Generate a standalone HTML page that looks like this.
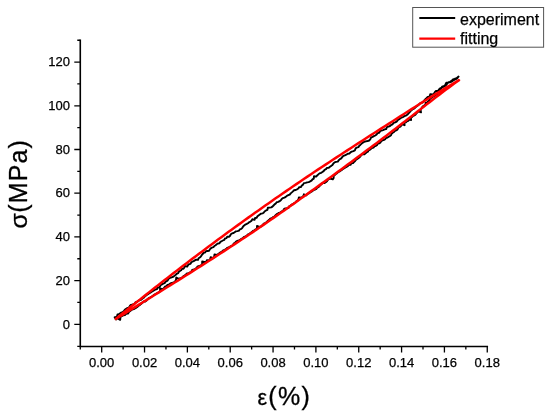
<!DOCTYPE html><html><head><meta charset="utf-8"><style>html,body{margin:0;padding:0;background:#fff;}svg{display:block;}text{font-family:"Liberation Sans",Arial,sans-serif;fill:#000;}</style></head><body>
<svg width="550" height="416" viewBox="0 0 550 416">
<rect width="550" height="416" fill="#fff"/>
<path d="M80.28 40.25V346.45H487.26" fill="none" stroke="#000" stroke-width="1.6" stroke-linecap="square"/>
<path d="M80.28 346.45h-3M80.28 324.30h-6M80.28 302.45h-3M80.28 280.60h-6M80.28 258.75h-3M80.28 236.90h-6M80.28 215.05h-3M80.28 193.20h-6M80.28 171.35h-3M80.28 149.50h-6M80.28 127.65h-3M80.28 105.80h-6M80.28 83.95h-3M80.28 62.10h-6M80.28 40.25h-3M80.28 346.45v3M101.70 346.45v6M123.12 346.45v3M144.54 346.45v6M165.96 346.45v3M187.38 346.45v6M208.80 346.45v3M230.22 346.45v6M251.64 346.45v3M273.06 346.45v6M294.48 346.45v3M315.90 346.45v6M337.32 346.45v3M358.74 346.45v6M380.16 346.45v3M401.58 346.45v6M423.00 346.45v3M444.42 346.45v6M465.84 346.45v3M487.26 346.45v6" fill="none" stroke="#000" stroke-width="1.3"/>
<text x="70" y="328.50" font-size="13" stroke="#000" stroke-width="0.25" text-anchor="end">0</text>
<text x="70" y="284.80" font-size="13" stroke="#000" stroke-width="0.25" text-anchor="end">20</text>
<text x="70" y="241.10" font-size="13" stroke="#000" stroke-width="0.25" text-anchor="end">40</text>
<text x="70" y="197.40" font-size="13" stroke="#000" stroke-width="0.25" text-anchor="end">60</text>
<text x="70" y="153.70" font-size="13" stroke="#000" stroke-width="0.25" text-anchor="end">80</text>
<text x="70" y="110.00" font-size="13" stroke="#000" stroke-width="0.25" text-anchor="end">100</text>
<text x="70" y="66.30" font-size="13" stroke="#000" stroke-width="0.25" text-anchor="end">120</text>
<text x="101.70" y="367.3" font-size="13" stroke="#000" stroke-width="0.25" text-anchor="middle">0.00</text>
<text x="144.54" y="367.3" font-size="13" stroke="#000" stroke-width="0.25" text-anchor="middle">0.02</text>
<text x="187.38" y="367.3" font-size="13" stroke="#000" stroke-width="0.25" text-anchor="middle">0.04</text>
<text x="230.22" y="367.3" font-size="13" stroke="#000" stroke-width="0.25" text-anchor="middle">0.06</text>
<text x="273.06" y="367.3" font-size="13" stroke="#000" stroke-width="0.25" text-anchor="middle">0.08</text>
<text x="315.90" y="367.3" font-size="13" stroke="#000" stroke-width="0.25" text-anchor="middle">0.10</text>
<text x="358.74" y="367.3" font-size="13" stroke="#000" stroke-width="0.25" text-anchor="middle">0.12</text>
<text x="401.58" y="367.3" font-size="13" stroke="#000" stroke-width="0.25" text-anchor="middle">0.14</text>
<text x="444.42" y="367.3" font-size="13" stroke="#000" stroke-width="0.25" text-anchor="middle">0.16</text>
<text x="487.26" y="367.3" font-size="13" stroke="#000" stroke-width="0.25" text-anchor="middle">0.18</text>
<text transform="translate(27,212.7) rotate(-90)" font-size="25" letter-spacing="1.1" stroke="#000" stroke-width="0.3">(MPa)</text>
<text transform="translate(27.2,228.6) rotate(-90) scale(1.08,1)" font-size="23" stroke="#000" stroke-width="0.3">σ</text>
<text x="284.3" y="404.5" font-size="25" letter-spacing="1.3" stroke="#000" stroke-width="0.3" text-anchor="middle"><tspan font-size="21.5">ε</tspan>(%)</text>
<path d="M114.30 316.60L116.11 319.40L117.27 318.17L120.19 319.81L120.44 317.10L121.78 316.14L123.21 315.36L124.89 314.98L126.05 313.74L127.89 313.62L128.88 312.11L130.18 311.11L131.39 309.96L132.91 309.32L134.52 308.82L135.90 307.95L137.27 307.06L138.45 305.86L139.86 305.03L141.08 303.91L142.34 302.85L143.46 301.56L145.31 301.45L146.60 300.45L147.71 299.14L148.92 298.00L150.44 297.35L151.82 296.50L153.15 295.56L154.46 294.57L155.91 293.83L157.32 293.03L158.79 292.31L160.06 291.28L160.15 288.35L162.64 289.29L163.80 288.07L164.88 286.75L166.44 286.18L167.50 284.83L169.19 284.47L170.38 283.33L171.98 282.84L173.69 282.52L174.94 281.48L175.96 280.07L176.27 277.51L178.94 278.74L180.55 278.28L182.02 277.60L183.19 276.43L184.58 275.62L185.81 274.56L186.98 273.40L188.70 273.12L190.15 272.41L191.42 271.42L192.30 269.82L193.92 269.38L195.43 268.78L196.69 267.78L197.68 266.36L199.35 266.02L200.81 265.34L202.14 264.47L202.17 261.55L204.35 262.02L206.17 261.91L206.90 260.11L208.98 260.41L210.15 259.30L210.64 257.14L213.17 258.15L214.16 256.77L214.48 254.35L216.79 255.02L218.11 254.16L219.33 253.16L220.65 252.29L222.00 251.49L223.14 250.37L224.72 249.91L226.03 249.06L227.15 247.91L228.68 247.40L230.06 246.66L231.48 245.97L232.87 245.26L233.65 243.60L234.98 242.80L236.02 241.57L237.41 240.85L238.88 240.26L240.32 239.64L241.58 238.74L242.91 237.96L244.03 236.86L245.58 236.40L246.79 235.44L247.97 234.45L249.34 233.72L250.65 232.94L251.79 231.89L252.99 230.93L254.35 230.22L255.64 229.41L257.03 228.73L257.00 225.99L259.44 226.87L261.00 226.48L262.16 225.49L263.18 224.30L264.38 223.37L265.83 222.82L266.86 221.65L268.01 220.68L269.21 219.76L270.24 218.61L271.75 218.15L272.93 217.22L274.30 216.57L275.35 215.47L276.46 214.44L277.76 213.69L278.97 212.81L280.49 212.39L281.58 211.34L283.09 210.91L283.78 209.31L284.94 208.38L286.68 208.27L288.38 208.11L289.05 206.48L290.42 205.87L291.44 204.74L292.92 204.28L294.00 203.24L295.29 202.50L296.28 201.36L297.58 200.64L298.46 199.33L298.87 197.38L300.90 197.69L302.23 197.03L303.39 196.12L303.92 194.33L306.45 195.35L307.24 193.93L308.72 193.48L309.90 192.61L311.10 191.77L312.44 191.13L313.50 190.10L314.98 189.65L316.30 188.97L317.14 187.64L318.53 187.07L319.52 185.95L320.63 184.99L321.60 183.83L322.89 183.13L324.60 183.01L325.80 182.18L326.95 181.28L327.78 179.95L328.96 179.10L330.32 178.49L332.76 179.37L333.62 178.09L333.74 175.79L334.93 174.96L335.92 173.86L337.17 173.10L338.24 172.11L339.57 171.48L340.67 170.53L341.99 169.88L343.07 168.91L344.29 168.12L345.55 167.40L346.83 166.70L348.02 165.89L349.05 164.85L350.72 164.69L351.40 163.19L353.08 163.03L354.04 161.91L355.14 160.97L356.04 159.78L357.18 158.90L358.39 158.12L359.54 157.27L360.52 156.18L361.30 154.82L362.67 154.27L364.45 154.25L365.57 153.36L366.53 152.26L367.87 151.66L368.64 150.31L369.97 149.70L371.01 148.72L372.17 147.88L373.66 147.51L374.51 146.27L375.99 145.86L377.08 144.95L377.87 143.63L379.40 143.30L380.53 142.44L381.24 141.03L382.58 140.45L383.99 139.96L385.16 139.17L386.02 137.96L387.53 137.61L388.66 136.76L389.92 136.08L391.03 135.22L391.61 133.66L392.74 132.81L393.93 132.04L394.88 130.97L396.14 130.31L397.41 129.67L398.09 128.25L399.03 127.16L400.41 126.66L401.30 125.53L402.13 124.31L404.61 125.22L404.40 122.68L405.87 122.29L406.90 121.35L408.33 120.91L408.94 119.43L411.12 119.96L410.83 117.34L412.21 116.84L413.08 115.70L414.58 115.36L415.61 114.43L416.46 113.26L417.46 112.28L418.58 111.47L421.01 112.32L420.55 109.48L421.44 108.36L422.27 107.16L423.17 106.06L424.43 105.42L425.39 104.38L425.87 102.72L427.32 102.32L428.25 101.24L429.40 100.44L429.96 98.86L431.05 97.99L432.34 97.36L433.37 96.39L434.54 95.60L435.80 94.92L437.04 94.21L437.77 92.83L438.75 91.77L439.49 90.39L440.59 89.48L441.45 88.24L442.08 86.69L443.56 86.26L444.84 85.57L445.58 84.13L446.33 82.71L448.00 82.52L449.62 82.26L450.76 81.34L451.97 80.52L452.97 79.39L454.49 78.97L455.90 78.40L457.34 77.87L458.60 76.60L456.00 78.80L457.66 77.87L456.32 79.00L454.74 79.70L453.20 80.47L451.88 81.59L450.26 82.19L448.36 82.30L447.22 83.70L446.09 85.11L444.78 86.18L443.28 86.94L441.72 87.57L440.22 88.32L438.95 89.43L437.97 91.00L435.99 90.91L434.82 92.16L433.90 93.80L432.44 94.55L430.24 94.09L429.73 96.38L428.08 96.80L426.82 97.85L425.63 99.00L424.46 100.17L423.62 101.87L422.17 102.58L420.58 103.07L419.33 104.10L418.20 105.32L416.89 106.23L415.53 107.08L414.47 108.37L412.98 109.01L411.73 110.01L410.52 111.07L409.47 112.37L408.33 113.54L407.23 114.77L405.86 115.56L404.33 116.12L403.06 117.08L401.44 117.49L400.22 118.52L398.87 119.35L397.63 120.35L396.60 121.67L395.19 122.42L393.64 122.94L392.62 124.29L391.16 124.94L389.96 126.01L388.44 126.58L386.88 127.08L386.24 129.02L384.58 129.38L383.12 130.04L381.53 130.50L380.11 131.22L379.18 132.71L377.57 133.13L376.62 134.59L375.32 135.50L373.84 136.13L372.51 136.99L371.04 137.63L370.25 139.33L369.13 140.52L367.57 141.02L365.87 141.30L364.26 141.72L362.93 142.58L361.70 143.58L360.51 144.66L359.29 145.69L358.38 147.18L356.76 147.58L355.52 148.57L354.86 150.45L353.40 151.09L351.82 151.55L350.50 152.40L349.36 153.54L347.65 153.79L346.35 154.67L344.88 155.29L343.39 155.88L342.27 157.03L341.29 158.40L339.91 159.15L338.72 160.18L337.79 161.61L336.07 161.83L334.56 162.38L333.41 163.46L332.48 164.88L331.25 165.84L329.95 166.69L328.77 167.72L326.99 167.84L325.99 169.14L324.58 169.82L323.61 171.14L322.34 172.02L321.04 172.86L319.52 173.36L318.35 174.39L317.22 175.46L316.17 176.66L314.01 176.20L313.76 178.59L312.46 179.40L311.49 180.71L310.14 181.44L308.74 182.10L307.10 182.40L305.59 182.89L303.86 183.07L303.07 184.61L301.81 185.47L300.99 186.97L299.27 187.15L298.34 188.49L297.07 189.31L295.69 189.98L294.06 190.29L292.94 191.33L291.82 192.37L290.68 193.38L289.71 194.63L288.28 195.22L286.87 195.83L285.76 196.88L284.45 197.62L282.94 198.09L281.74 198.98L280.83 200.31L279.61 201.18L278.31 201.93L276.67 202.20L275.77 203.52L274.56 204.39L273.52 205.51L272.47 206.62L271.19 207.39L269.55 207.65L267.86 207.82L267.43 209.80L266.06 210.43L264.82 211.24L263.84 212.42L262.71 213.39L261.07 213.63L259.82 214.44L258.70 215.40L257.45 216.20L256.71 217.71L255.08 217.95L254.62 219.83L252.37 219.22L251.59 220.65L250.44 221.58L249.11 222.24L248.01 223.22L246.73 223.95L245.35 224.54L244.18 225.41L243.15 226.48L242.32 227.83L241.30 228.91L239.83 229.35L239.00 230.70L237.49 231.10L235.88 231.35L234.71 232.21L233.53 233.05L231.99 233.41L230.80 234.23L230.08 235.71L229.02 236.71L227.22 236.71L226.52 238.19L224.98 238.53L224.21 239.92L222.84 240.50L221.58 241.21L220.33 241.94L219.49 243.23L217.93 243.53L216.71 244.31L215.60 245.22L214.38 245.97L213.45 247.13L211.97 247.55L210.82 248.39L209.79 249.40L209.08 250.85L207.45 251.05L205.83 251.26L205.04 252.59L203.44 252.83L202.65 254.15L201.67 255.21L200.85 256.50L199.77 257.43L198.59 258.21L198.02 259.81L196.09 259.60L194.86 260.34L193.64 261.06L192.29 261.63L191.21 262.54L190.49 263.93L188.92 264.20L187.93 265.24L187.24 266.65L184.95 265.98L184.37 267.53L183.50 268.72L181.88 268.91L181.17 270.29L179.92 270.98L178.82 271.85L178.09 273.20L176.76 273.76L175.73 274.73L174.67 275.64L173.59 276.53L172.27 277.11L170.94 277.67L169.43 278.01L168.41 278.97L167.72 280.36L166.58 281.16L165.34 281.84L164.61 283.17L163.21 283.63L162.00 284.33L160.80 285.06L160.03 286.32L159.07 287.35L157.51 287.61L156.94 289.13L155.48 289.51L154.26 290.20L153.08 290.93L151.83 291.58L150.70 292.38L149.48 293.07L148.37 293.89L147.17 294.59L146.12 295.49L145.00 296.29L144.14 297.42L142.90 298.08L141.92 299.06L140.85 299.92L139.40 300.31L138.09 300.86L137.12 301.85L135.65 302.21L134.76 303.29L133.81 304.29L132.27 304.56L130.79 304.91L129.87 305.94L129.19 307.29L127.98 307.97L126.58 308.41L125.46 309.18L124.49 310.16L123.71 311.37L122.49 312.03L121.20 312.60L120.12 313.43L118.94 314.14L117.51 314.53L117.07 316.15L116.19 317.22L115.42 318.43L114.30 316.60" fill="none" stroke="#000" stroke-width="1.9" stroke-linejoin="round"/>
<path d="M115.80 318.90L119.72 316.49L123.64 314.08L127.56 311.67L131.48 309.26L135.40 306.84L139.31 304.43L143.22 302.02L147.13 299.61L151.04 297.20L154.94 294.79L158.83 292.38L162.72 289.97L166.60 287.56L170.47 285.14L174.34 282.73L178.20 280.32L182.05 277.91L185.89 275.50L189.72 273.09L193.53 270.68L197.34 268.27L201.14 265.86L204.92 263.44L208.69 261.03L212.45 258.62L216.19 256.21L219.92 253.80L223.64 251.39L227.34 248.98L231.02 246.57L234.69 244.16L238.34 241.74L241.98 239.33L245.59 236.92L249.19 234.51L252.77 232.10L256.34 229.69L259.88 227.28L263.40 224.87L266.91 222.46L270.40 220.04L273.88 217.63L277.34 215.22L280.79 212.81L284.22 210.40L287.64 207.99L291.04 205.58L294.44 203.17L297.83 200.76L301.20 198.34L304.57 195.93L307.93 193.52L311.28 191.11L314.63 188.70L317.97 186.29L321.30 183.88L324.63 181.47L327.95 179.06L331.26 176.64L334.57 174.23L337.86 171.82L341.16 169.41L344.44 167.00L347.72 164.59L350.98 162.18L354.24 159.77L357.50 157.36L360.74 154.94L363.97 152.53L367.20 150.12L370.42 147.71L373.63 145.30L376.82 142.89L380.01 140.48L383.19 138.07L386.36 135.66L389.52 133.24L392.67 130.83L395.81 128.42L398.94 126.01L402.06 123.60L405.17 121.19L408.27 118.78L411.36 116.37L414.44 113.96L417.52 111.54L420.60 109.13L423.69 106.72L426.78 104.31L429.89 101.90L433.01 99.49L436.16 97.08L439.32 94.67L442.51 92.26L445.74 89.84L448.99 87.43L452.28 85.02L455.62 82.61L459.00 80.20L459.00 80.20L454.81 82.61L450.67 85.02L446.59 87.43L442.55 89.84L438.56 92.26L434.60 94.67L430.69 97.08L426.80 99.49L422.95 101.90L419.12 104.31L415.31 106.72L411.52 109.13L407.74 111.54L403.97 113.96L400.21 116.37L396.45 118.78L392.69 121.19L388.93 123.60L385.16 126.01L381.40 128.42L377.64 130.83L373.87 133.24L370.11 135.66L366.36 138.07L362.61 140.48L358.86 142.89L355.12 145.30L351.38 147.71L347.66 150.12L343.94 152.53L340.23 154.94L336.54 157.36L332.85 159.77L329.18 162.18L325.52 164.59L321.87 167.00L318.24 169.41L314.62 171.82L311.01 174.23L307.42 176.64L303.84 179.06L300.27 181.47L296.71 183.88L293.17 186.29L289.64 188.70L286.12 191.11L282.62 193.52L279.13 195.93L275.65 198.34L272.18 200.76L268.73 203.17L265.29 205.58L261.87 207.99L258.45 210.40L255.05 212.81L251.66 215.22L248.28 217.63L244.91 220.04L241.56 222.46L238.22 224.87L234.89 227.28L231.57 229.69L228.26 232.10L224.96 234.51L221.68 236.92L218.40 239.33L215.14 241.74L211.89 244.16L208.65 246.57L205.42 248.98L202.20 251.39L198.99 253.80L195.79 256.21L192.60 258.62L189.42 261.03L186.25 263.44L183.09 265.86L179.94 268.27L176.80 270.68L173.66 273.09L170.54 275.50L167.43 277.91L164.33 280.32L161.23 282.73L158.14 285.14L155.07 287.56L152.00 289.97L148.94 292.38L145.89 294.79L142.84 297.20L139.81 299.61L136.78 302.02L133.76 304.43L130.75 306.84L127.74 309.26L124.75 311.67L121.76 314.08L118.78 316.49L115.80 318.90" fill="none" stroke="#f00" stroke-width="2.5" stroke-linejoin="round" stroke-linecap="round"/>
<rect x="412.7" y="7.5" width="130.9" height="39.7" fill="#fff" stroke="#555" stroke-width="1"/>
<line x1="419.3" y1="18.1" x2="455.2" y2="18.1" stroke="#000" stroke-width="2"/>
<line x1="419.3" y1="38.6" x2="455.2" y2="38.6" stroke="#f00" stroke-width="2.2"/>
<text x="460" y="24.6" font-size="16" stroke="#000" stroke-width="0.25">experiment</text>
<text x="460" y="44.1" font-size="16" stroke="#000" stroke-width="0.25">fitting</text>
</svg></body></html>
